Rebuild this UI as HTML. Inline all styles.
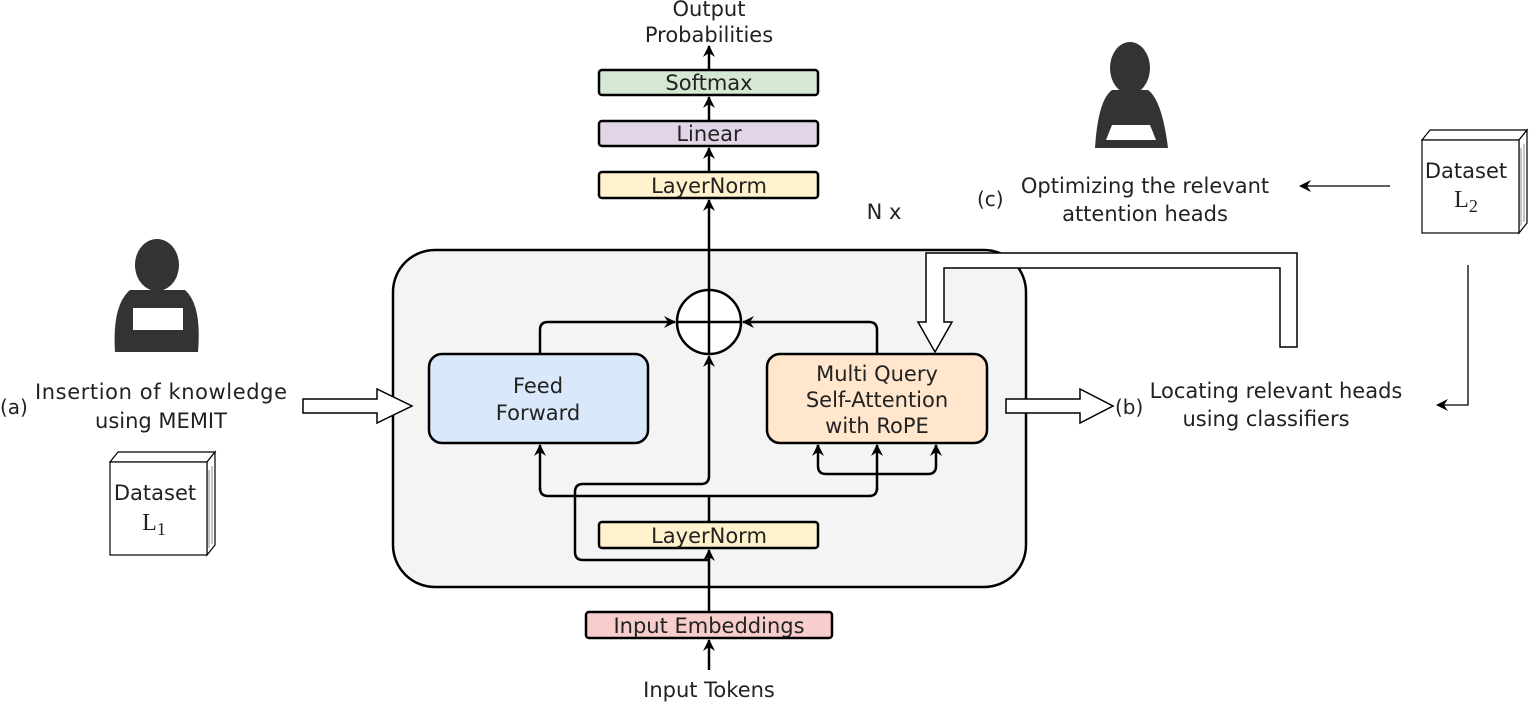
<!DOCTYPE html>
<html><head><meta charset="utf-8"><style>
body{margin:0;background:#fff}
text{font-family:"DejaVu Sans","Liberation Sans",sans-serif;fill:#222}
</style></head><body>
<svg width="1529" height="702" viewBox="0 0 1529 702" xmlns="http://www.w3.org/2000/svg">
<defs><marker id="a" markerWidth="14" markerHeight="14" refX="11" refY="6" orient="auto" markerUnits="userSpaceOnUse"><path d="M0,0 L12,6 L0,12 L4,6 z" fill="#000"/></marker></defs>
<rect x="393" y="250" width="633" height="337" rx="42" fill="#f4f4f4" stroke="#000" stroke-width="2.5"/>
<g stroke="#000" stroke-width="2.5" fill="none">
<rect x="429" y="354" width="219" height="89" rx="13" fill="#dae8fc"/>
<rect x="767" y="354" width="220" height="89" rx="13" fill="#ffe6cc"/>
<rect x="599" y="522" width="219" height="26" rx="3" fill="#fff2cc"/>
<rect x="586" y="612" width="246" height="26" rx="3" fill="#f8cecc"/>
<rect x="599" y="172" width="219" height="26" rx="3" fill="#fff2cc"/>
<rect x="599" y="121" width="219" height="25" rx="3" fill="#e1d5e7"/>
<rect x="599" y="70" width="219" height="25" rx="3" fill="#d5e8d4"/>
<ellipse cx="709" cy="322" rx="32" ry="32" fill="#fff"/>
<path d="M677,322 H741 M709,290 V354"/>
<path d="M709,670 V640" marker-end="url(#a)"/>
<path d="M709,612 V550" marker-end="url(#a)"/>
<path d="M709,522 V496 M548,496 H869 M540,488 Q540,496 548,496 M877,488 Q877,496 869,496"/>
<path d="M540,490 V445" marker-end="url(#a)"/>
<path d="M877,490 V445" marker-end="url(#a)"/>
<path d="M818,445 V466 Q818,474 826,474 H928 Q936,474 936,466 V445" />
<path d="M818,452 V445" marker-end="url(#a)"/>
<path d="M936,452 V445" marker-end="url(#a)"/>
<path d="M709,560 H583 Q575,560 575,552 V492 Q575,484 583,484 H701 Q709,484 709,476 V356" marker-end="url(#a)"/>
<path d="M540,354 V330 Q540,322 548,322 H675" marker-end="url(#a)"/>
<path d="M877,354 V330 Q877,322 869,322 H743" marker-end="url(#a)"/>
<path d="M709,290 V200" marker-end="url(#a)"/>
<path d="M709,172 V148" marker-end="url(#a)"/>
<path d="M709,121 V97" marker-end="url(#a)"/>
<path d="M709,70 V46" marker-end="url(#a)"/>
</g>
<g stroke="#000" stroke-width="1.5" fill="#fff">
<path d="M303,399 H377 V389 L412,406 L377,423 V413 H303 Z"/>
<path d="M1006,399 H1080 V389 L1113,406 L1080,423 V413 H1006 Z"/>
<path d="M1297,347 V253 H926 V322 H918 L935,352 L952,322 H944 V268 H1280 V347 Z"/>
</g>
<g stroke="#000" stroke-width="1.3" fill="none">
<path d="M1390,186 H1300" marker-end="url(#a)"/>
<path d="M1468,265 V405 H1437" marker-end="url(#a)"/>
</g>
<g stroke="#000" stroke-width="1.2" fill="#fff">
<path d="M110,462 L118,452 H215 L207,462 Z"/><path d="M207,462 L215,452 V545 L207,555 Z"/>
<rect x="110" y="462" width="97" height="93"/>
<path d="M1422,140 L1430,130 H1527 L1519,140 Z"/><path d="M1519,140 L1527,130 V223 L1519,233 Z"/>
<rect x="1422" y="140" width="97" height="93"/>
</g>
<g stroke="#888" stroke-width="1"><path d="M209,470 V548 M212,466 V544 M1521,148 V226 M1524,144 V222"/></g>
<g fill="#333">
<ellipse cx="157" cy="265" rx="22" ry="26"/><path d="M115,352 Q112,305 130,290 H185 Q202,305 198,352 Z"/>
<ellipse cx="1130" cy="68" rx="20" ry="26"/><path d="M1095,148 Q1098,100 1112,90 H1148 Q1162,100 1168,148 Z"/>
</g>
<g fill="#fff"><rect x="133" y="308" width="50" height="22"/><path d="M1112,125 H1150 L1156,140 H1106 Z"/></g>
<g font-size="21" text-anchor="middle">
<text x="709" y="16">Output</text><text x="709" y="42">Probabilities</text>
<text x="709" y="90">Softmax</text><text x="709" y="141">Linear</text>
<text x="709" y="193">LayerNorm</text><text x="709" y="543">LayerNorm</text>
<text x="709" y="633">Input Embeddings</text><text x="709" y="697">Input Tokens</text>
<text x="538" y="393">Feed</text><text x="538" y="420">Forward</text>
<text x="877" y="381">Multi Query</text><text x="877" y="407">Self-Attention</text><text x="877" y="433">with RoPE</text>
<text x="884" y="219">N x</text>
<text x="161" y="399" textLength="252">Insertion of knowledge</text><text x="161" y="428">using MEMIT</text>
<text x="1145" y="193">Optimizing the relevant</text><text x="1145" y="221">attention heads</text>
<text x="1276" y="398">Locating relevant heads</text><text x="1266" y="426">using classifiers</text>
<text x="155" y="500">Dataset</text><text x="1466" y="178">Dataset</text>
</g>
<g font-size="20"><text x="0" y="414">(a)</text><text x="1115" y="414">(b)</text><text x="977" y="206">(c)</text></g>
<g font-size="24" text-anchor="middle" style="font-family:'Liberation Serif',serif">
<text x="154" y="530" style="font-family:'Liberation Serif',serif">L<tspan font-size="18" dy="5">1</tspan></text>
<text x="1466" y="207" style="font-family:'Liberation Serif',serif">L<tspan font-size="18" dy="5">2</tspan></text>
</g>
</svg>
</body></html>
